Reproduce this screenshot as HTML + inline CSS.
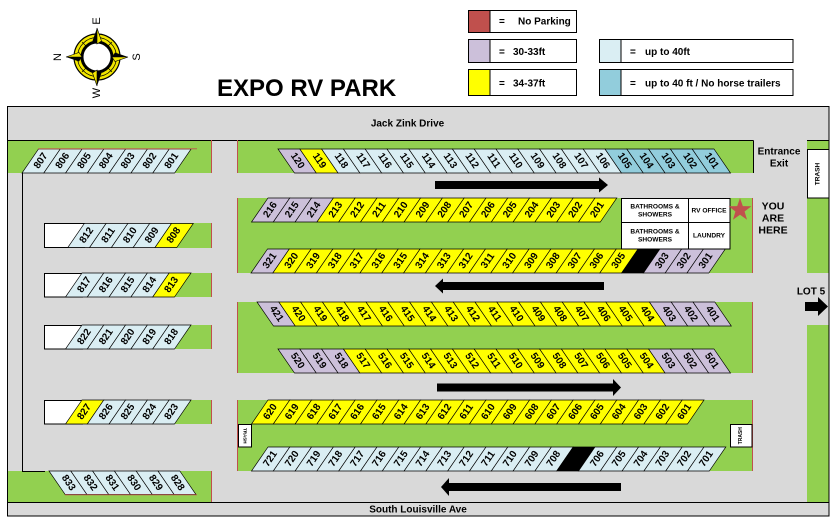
<!DOCTYPE html>
<html><head><meta charset="utf-8"><style>
html,body{margin:0;padding:0;background:#fff}
svg{display:block}
.r rect{stroke:#000;stroke-width:.8}
.r text{font-size:10px;text-anchor:middle;dominant-baseline:central}
</style></head><body>
<svg width="836" height="525" viewBox="0 0 836 525" xmlns="http://www.w3.org/2000/svg" font-family="'Liberation Sans', Arial, sans-serif" font-weight="bold">
<rect width="836" height="525" fill="#fff"/>

<!-- Compass -->
<circle cx="97" cy="57" r="23" fill="#f2e600" stroke="#000" stroke-width="1.2"/>
<circle cx="97" cy="57" r="19.5" fill="none" stroke="#000" stroke-width="0.7"/>
<line x1="82" y1="42" x2="112" y2="72" stroke="#000" stroke-width="0.6"/>
<line x1="112" y1="42" x2="82" y2="72" stroke="#000" stroke-width="0.6"/>
<circle cx="97" cy="57" r="15" fill="#fff" stroke="#000" stroke-width="3"/>
<polygon points="97,28 92.5,41 97,44" fill="#000"/><polygon points="97,28 101.5,41 97,44" fill="#f2e600" stroke="#000" stroke-width=".6"/>
<polygon points="97,86 101.5,73 97,70" fill="#000"/><polygon points="97,86 92.5,73 97,70" fill="#f2e600" stroke="#000" stroke-width=".6"/>
<polygon points="66,57 79,61.5 82,57" fill="#000"/><polygon points="66,57 79,52.5 82,57" fill="#f2e600" stroke="#000" stroke-width=".6"/>
<polygon points="128,57 115,52.5 112,57" fill="#000"/><polygon points="128,57 115,61.5 112,57" fill="#f2e600" stroke="#000" stroke-width=".6"/>
<g font-weight="normal" font-size="11" text-anchor="middle" dominant-baseline="central">
<text transform="translate(97,21) rotate(-90)">E</text>
<text transform="translate(58,57) rotate(-90)">N</text>
<text transform="translate(137,57) rotate(-90)">S</text>
<text transform="translate(97,93) rotate(-90)">W</text>
</g>

<text x="217" y="96" font-size="24">EXPO RV PARK</text>

<!-- Legend -->
<g font-size="10">
<rect x="468.5" y="10.5" width="108" height="22" fill="#fff" stroke="#000"/>
<rect x="468.5" y="10.5" width="21.5" height="22" fill="#c0504d" stroke="#000"/>
<text x="499" y="24.6">=</text><text x="518" y="24.6">No Parking</text>
<rect x="468.5" y="39.5" width="108" height="23" fill="#fff" stroke="#000"/>
<rect x="468.5" y="39.5" width="21.5" height="23" fill="#ccc0da" stroke="#000"/>
<text x="499" y="55">=</text><text x="513" y="55">30-33ft</text>
<rect x="468.5" y="69.5" width="108" height="26" fill="#fff" stroke="#000"/>
<rect x="468.5" y="69.5" width="21.5" height="26" fill="#ffff00" stroke="#000"/>
<text x="499" y="86.3">=</text><text x="513" y="86.3">34-37ft</text>
<rect x="599.5" y="39.5" width="193.5" height="23" fill="#fff" stroke="#000"/>
<rect x="599.5" y="39.5" width="21.5" height="23" fill="#daeef3" stroke="#000"/>
<text x="630" y="55">=</text><text x="645" y="55">up to 40ft</text>
<rect x="599.5" y="69.5" width="193.5" height="26" fill="#fff" stroke="#000"/>
<rect x="599.5" y="69.5" width="21.5" height="26" fill="#92cddc" stroke="#000"/>
<text x="630" y="86.3">=</text><text x="645" y="86.3">up to 40 ft / No horse trailers</text>
</g>

<!-- Ground -->
<rect x="7.5" y="106.5" width="821.5" height="409.5" fill="#d9d9d9" stroke="#000"/>
<line x1="7.5" y1="502.5" x2="829" y2="502.5" stroke="#000"/>
<text x="407.5" y="126.5" font-size="10" text-anchor="middle">Jack Zink Drive</text>
<text x="418" y="512.5" font-size="10" text-anchor="middle">South Louisville Ave</text>

<!-- Greens -->
<g fill="#92d050">
<rect x="8" y="140" width="203" height="33"/>
<rect x="237" y="140" width="516" height="33"/>
<rect x="807" y="140" width="21.5" height="133"/>
<rect x="807" y="325" width="21.5" height="177"/>
<rect x="237" y="198" width="515" height="75"/>
<rect x="237" y="302" width="516" height="71"/>
<rect x="237" y="400" width="516" height="71"/>
<rect x="170" y="223" width="41" height="25"/>
<rect x="170" y="273" width="41" height="24"/>
<rect x="170" y="325" width="41" height="24"/>
<rect x="170" y="400" width="41" height="24"/>
<rect x="8" y="471" width="203" height="31"/>
</g>

<!-- Black lines -->
<g stroke="#000" stroke-width="1" fill="none">
<line x1="7.5" y1="140.5" x2="753.5" y2="140.5"/>
<line x1="753.5" y1="140.5" x2="753.5" y2="173"/>
<line x1="807" y1="140.5" x2="829" y2="140.5"/>
<polyline points="22.5,173 22.5,471.5 45,471.5"/>
</g>

<!-- Red lines -->
<g stroke="#c0504d" stroke-width="1">
<line x1="211.5" y1="140" x2="211.5" y2="173"/>
<line x1="211.5" y1="223" x2="211.5" y2="248"/>
<line x1="211.5" y1="273" x2="211.5" y2="297"/>
<line x1="211.5" y1="325" x2="211.5" y2="349"/>
<line x1="211.5" y1="400" x2="211.5" y2="424"/>
<line x1="211.5" y1="471" x2="211.5" y2="502"/>
<line x1="237.5" y1="140" x2="237.5" y2="173"/>
<line x1="237.5" y1="198" x2="237.5" y2="273"/>
<line x1="237.5" y1="302" x2="237.5" y2="373"/>
<line x1="237.5" y1="400" x2="237.5" y2="471"/>
<line x1="752.5" y1="198" x2="752.5" y2="273"/>
<line x1="752.5" y1="302" x2="752.5" y2="373"/>
<line x1="752.5" y1="400" x2="752.5" y2="471"/>
</g>

<!-- Island white boxes -->
<g fill="#fff" stroke="#000">
<rect x="44.5" y="223.5" width="40" height="24"/>
<rect x="44.5" y="273.5" width="38" height="23.5"/>
<rect x="44.5" y="325.5" width="38" height="23.5"/>
<rect x="44.5" y="400.5" width="38" height="23.5"/>
</g>

<!-- Row 100 -->
<g class="r" transform="translate(278,149) skewX(34.5)">
<rect x="0" width="21.8" height="24" fill="#ccc0da"/><text transform="translate(10.9,12) skewX(-34.5) rotate(55.5)">120</text>
<rect x="21.8" width="21.8" height="24" fill="#ffff00"/><text transform="translate(32.7,12) skewX(-34.5) rotate(55.5)">119</text>
<rect x="43.6" width="21.8" height="24" fill="#daeef3"/><text transform="translate(54.5,12) skewX(-34.5) rotate(55.5)">118</text>
<rect x="65.4" width="21.8" height="24" fill="#daeef3"/><text transform="translate(76.3,12) skewX(-34.5) rotate(55.5)">117</text>
<rect x="87.2" width="21.8" height="24" fill="#daeef3"/><text transform="translate(98.1,12) skewX(-34.5) rotate(55.5)">116</text>
<rect x="109" width="21.8" height="24" fill="#daeef3"/><text transform="translate(119.9,12) skewX(-34.5) rotate(55.5)">115</text>
<rect x="130.8" width="21.8" height="24" fill="#daeef3"/><text transform="translate(141.7,12) skewX(-34.5) rotate(55.5)">114</text>
<rect x="152.6" width="21.8" height="24" fill="#daeef3"/><text transform="translate(163.5,12) skewX(-34.5) rotate(55.5)">113</text>
<rect x="174.4" width="21.8" height="24" fill="#daeef3"/><text transform="translate(185.3,12) skewX(-34.5) rotate(55.5)">112</text>
<rect x="196.2" width="21.8" height="24" fill="#daeef3"/><text transform="translate(207.1,12) skewX(-34.5) rotate(55.5)">111</text>
<rect x="218" width="21.8" height="24" fill="#daeef3"/><text transform="translate(228.9,12) skewX(-34.5) rotate(55.5)">110</text>
<rect x="239.8" width="21.8" height="24" fill="#daeef3"/><text transform="translate(250.7,12) skewX(-34.5) rotate(55.5)">109</text>
<rect x="261.6" width="21.8" height="24" fill="#daeef3"/><text transform="translate(272.5,12) skewX(-34.5) rotate(55.5)">108</text>
<rect x="283.4" width="21.8" height="24" fill="#daeef3"/><text transform="translate(294.3,12) skewX(-34.5) rotate(55.5)">107</text>
<rect x="305.2" width="21.8" height="24" fill="#daeef3"/><text transform="translate(316.1,12) skewX(-34.5) rotate(55.5)">106</text>
<rect x="327" width="21.8" height="24" fill="#92cddc"/><text transform="translate(337.9,12) skewX(-34.5) rotate(55.5)">105</text>
<rect x="348.8" width="21.8" height="24" fill="#92cddc"/><text transform="translate(359.7,12) skewX(-34.5) rotate(55.5)">104</text>
<rect x="370.6" width="21.8" height="24" fill="#92cddc"/><text transform="translate(381.5,12) skewX(-34.5) rotate(55.5)">103</text>
<rect x="392.4" width="21.8" height="24" fill="#92cddc"/><text transform="translate(403.3,12) skewX(-34.5) rotate(55.5)">102</text>
<rect x="414.2" width="21.8" height="24" fill="#92cddc"/><text transform="translate(425.1,12) skewX(-34.5) rotate(55.5)">101</text>
</g>

<!-- Row 200 -->
<g class="r" transform="translate(268,198) skewX(-34.5)">
<rect x="0" width="21.8" height="24" fill="#ccc0da"/><text transform="translate(10.9,12) skewX(34.5) rotate(-55.5)">216</text>
<rect x="21.8" width="21.8" height="24" fill="#ccc0da"/><text transform="translate(32.7,12) skewX(34.5) rotate(-55.5)">215</text>
<rect x="43.6" width="21.8" height="24" fill="#ccc0da"/><text transform="translate(54.5,12) skewX(34.5) rotate(-55.5)">214</text>
<rect x="65.4" width="21.8" height="24" fill="#ffff00"/><text transform="translate(76.3,12) skewX(34.5) rotate(-55.5)">213</text>
<rect x="87.2" width="21.8" height="24" fill="#ffff00"/><text transform="translate(98.1,12) skewX(34.5) rotate(-55.5)">212</text>
<rect x="109" width="21.8" height="24" fill="#ffff00"/><text transform="translate(119.9,12) skewX(34.5) rotate(-55.5)">211</text>
<rect x="130.8" width="21.8" height="24" fill="#ffff00"/><text transform="translate(141.7,12) skewX(34.5) rotate(-55.5)">210</text>
<rect x="152.6" width="21.8" height="24" fill="#ffff00"/><text transform="translate(163.5,12) skewX(34.5) rotate(-55.5)">209</text>
<rect x="174.4" width="21.8" height="24" fill="#ffff00"/><text transform="translate(185.3,12) skewX(34.5) rotate(-55.5)">208</text>
<rect x="196.2" width="21.8" height="24" fill="#ffff00"/><text transform="translate(207.1,12) skewX(34.5) rotate(-55.5)">207</text>
<rect x="218" width="21.8" height="24" fill="#ffff00"/><text transform="translate(228.9,12) skewX(34.5) rotate(-55.5)">206</text>
<rect x="239.8" width="21.8" height="24" fill="#ffff00"/><text transform="translate(250.7,12) skewX(34.5) rotate(-55.5)">205</text>
<rect x="261.6" width="21.8" height="24" fill="#ffff00"/><text transform="translate(272.5,12) skewX(34.5) rotate(-55.5)">204</text>
<rect x="283.4" width="21.8" height="24" fill="#ffff00"/><text transform="translate(294.3,12) skewX(34.5) rotate(-55.5)">203</text>
<rect x="305.2" width="21.8" height="24" fill="#ffff00"/><text transform="translate(316.1,12) skewX(34.5) rotate(-55.5)">202</text>
<rect x="327" width="21.8" height="24" fill="#ffff00"/><text transform="translate(337.9,12) skewX(34.5) rotate(-55.5)">201</text>
</g>

<!-- Row 300 -->
<g class="r" transform="translate(267.5,249) skewX(-34.5)">
<rect x="0" width="21.8" height="24" fill="#ccc0da"/><text transform="translate(10.9,12) skewX(34.5) rotate(-55.5)">321</text>
<rect x="21.8" width="21.8" height="24" fill="#ffff00"/><text transform="translate(32.7,12) skewX(34.5) rotate(-55.5)">320</text>
<rect x="43.6" width="21.8" height="24" fill="#ffff00"/><text transform="translate(54.5,12) skewX(34.5) rotate(-55.5)">319</text>
<rect x="65.4" width="21.8" height="24" fill="#ffff00"/><text transform="translate(76.3,12) skewX(34.5) rotate(-55.5)">318</text>
<rect x="87.2" width="21.8" height="24" fill="#ffff00"/><text transform="translate(98.1,12) skewX(34.5) rotate(-55.5)">317</text>
<rect x="109" width="21.8" height="24" fill="#ffff00"/><text transform="translate(119.9,12) skewX(34.5) rotate(-55.5)">316</text>
<rect x="130.8" width="21.8" height="24" fill="#ffff00"/><text transform="translate(141.7,12) skewX(34.5) rotate(-55.5)">315</text>
<rect x="152.6" width="21.8" height="24" fill="#ffff00"/><text transform="translate(163.5,12) skewX(34.5) rotate(-55.5)">314</text>
<rect x="174.4" width="21.8" height="24" fill="#ffff00"/><text transform="translate(185.3,12) skewX(34.5) rotate(-55.5)">313</text>
<rect x="196.2" width="21.8" height="24" fill="#ffff00"/><text transform="translate(207.1,12) skewX(34.5) rotate(-55.5)">312</text>
<rect x="218" width="21.8" height="24" fill="#ffff00"/><text transform="translate(228.9,12) skewX(34.5) rotate(-55.5)">311</text>
<rect x="239.8" width="21.8" height="24" fill="#ffff00"/><text transform="translate(250.7,12) skewX(34.5) rotate(-55.5)">310</text>
<rect x="261.6" width="21.8" height="24" fill="#ffff00"/><text transform="translate(272.5,12) skewX(34.5) rotate(-55.5)">309</text>
<rect x="283.4" width="21.8" height="24" fill="#ffff00"/><text transform="translate(294.3,12) skewX(34.5) rotate(-55.5)">308</text>
<rect x="305.2" width="21.8" height="24" fill="#ffff00"/><text transform="translate(316.1,12) skewX(34.5) rotate(-55.5)">307</text>
<rect x="327" width="21.8" height="24" fill="#ffff00"/><text transform="translate(337.9,12) skewX(34.5) rotate(-55.5)">306</text>
<rect x="348.8" width="21.8" height="24" fill="#ffff00"/><text transform="translate(359.7,12) skewX(34.5) rotate(-55.5)">305</text>
<rect x="370.6" width="21.8" height="24" fill="#000"/>
<rect x="392.4" width="21.8" height="24" fill="#ccc0da"/><text transform="translate(403.3,12) skewX(34.5) rotate(-55.5)">303</text>
<rect x="414.2" width="21.8" height="24" fill="#ccc0da"/><text transform="translate(425.1,12) skewX(34.5) rotate(-55.5)">302</text>
<rect x="436" width="21.8" height="24" fill="#ccc0da"/><text transform="translate(446.9,12) skewX(34.5) rotate(-55.5)">301</text>
</g>

<!-- Row 400 -->
<g class="r" transform="translate(257,302) skewX(34.5)">
<rect x="0" width="21.8" height="24" fill="#ccc0da"/><text transform="translate(10.9,12) skewX(-34.5) rotate(55.5)">421</text>
<rect x="21.8" width="21.8" height="24" fill="#ffff00"/><text transform="translate(32.7,12) skewX(-34.5) rotate(55.5)">420</text>
<rect x="43.6" width="21.8" height="24" fill="#ffff00"/><text transform="translate(54.5,12) skewX(-34.5) rotate(55.5)">419</text>
<rect x="65.4" width="21.8" height="24" fill="#ffff00"/><text transform="translate(76.3,12) skewX(-34.5) rotate(55.5)">418</text>
<rect x="87.2" width="21.8" height="24" fill="#ffff00"/><text transform="translate(98.1,12) skewX(-34.5) rotate(55.5)">417</text>
<rect x="109" width="21.8" height="24" fill="#ffff00"/><text transform="translate(119.9,12) skewX(-34.5) rotate(55.5)">416</text>
<rect x="130.8" width="21.8" height="24" fill="#ffff00"/><text transform="translate(141.7,12) skewX(-34.5) rotate(55.5)">415</text>
<rect x="152.6" width="21.8" height="24" fill="#ffff00"/><text transform="translate(163.5,12) skewX(-34.5) rotate(55.5)">414</text>
<rect x="174.4" width="21.8" height="24" fill="#ffff00"/><text transform="translate(185.3,12) skewX(-34.5) rotate(55.5)">413</text>
<rect x="196.2" width="21.8" height="24" fill="#ffff00"/><text transform="translate(207.1,12) skewX(-34.5) rotate(55.5)">412</text>
<rect x="218" width="21.8" height="24" fill="#ffff00"/><text transform="translate(228.9,12) skewX(-34.5) rotate(55.5)">411</text>
<rect x="239.8" width="21.8" height="24" fill="#ffff00"/><text transform="translate(250.7,12) skewX(-34.5) rotate(55.5)">410</text>
<rect x="261.6" width="21.8" height="24" fill="#ffff00"/><text transform="translate(272.5,12) skewX(-34.5) rotate(55.5)">409</text>
<rect x="283.4" width="21.8" height="24" fill="#ffff00"/><text transform="translate(294.3,12) skewX(-34.5) rotate(55.5)">408</text>
<rect x="305.2" width="21.8" height="24" fill="#ffff00"/><text transform="translate(316.1,12) skewX(-34.5) rotate(55.5)">407</text>
<rect x="327" width="21.8" height="24" fill="#ffff00"/><text transform="translate(337.9,12) skewX(-34.5) rotate(55.5)">406</text>
<rect x="348.8" width="21.8" height="24" fill="#ffff00"/><text transform="translate(359.7,12) skewX(-34.5) rotate(55.5)">405</text>
<rect x="370.6" width="21.8" height="24" fill="#ffff00"/><text transform="translate(381.5,12) skewX(-34.5) rotate(55.5)">404</text>
<rect x="392.4" width="21.8" height="24" fill="#ccc0da"/><text transform="translate(403.3,12) skewX(-34.5) rotate(55.5)">403</text>
<rect x="414.2" width="21.8" height="24" fill="#ccc0da"/><text transform="translate(425.1,12) skewX(-34.5) rotate(55.5)">402</text>
<rect x="436" width="21.8" height="24" fill="#ccc0da"/><text transform="translate(446.9,12) skewX(-34.5) rotate(55.5)">401</text>
</g>

<!-- Row 500 -->
<g class="r" transform="translate(278,349) skewX(34.5)">
<rect x="0" width="21.8" height="24" fill="#ccc0da"/><text transform="translate(10.9,12) skewX(-34.5) rotate(55.5)">520</text>
<rect x="21.8" width="21.8" height="24" fill="#ccc0da"/><text transform="translate(32.7,12) skewX(-34.5) rotate(55.5)">519</text>
<rect x="43.6" width="21.8" height="24" fill="#ccc0da"/><text transform="translate(54.5,12) skewX(-34.5) rotate(55.5)">518</text>
<rect x="65.4" width="21.8" height="24" fill="#ffff00"/><text transform="translate(76.3,12) skewX(-34.5) rotate(55.5)">517</text>
<rect x="87.2" width="21.8" height="24" fill="#ffff00"/><text transform="translate(98.1,12) skewX(-34.5) rotate(55.5)">516</text>
<rect x="109" width="21.8" height="24" fill="#ffff00"/><text transform="translate(119.9,12) skewX(-34.5) rotate(55.5)">515</text>
<rect x="130.8" width="21.8" height="24" fill="#ffff00"/><text transform="translate(141.7,12) skewX(-34.5) rotate(55.5)">514</text>
<rect x="152.6" width="21.8" height="24" fill="#ffff00"/><text transform="translate(163.5,12) skewX(-34.5) rotate(55.5)">513</text>
<rect x="174.4" width="21.8" height="24" fill="#ffff00"/><text transform="translate(185.3,12) skewX(-34.5) rotate(55.5)">512</text>
<rect x="196.2" width="21.8" height="24" fill="#ffff00"/><text transform="translate(207.1,12) skewX(-34.5) rotate(55.5)">511</text>
<rect x="218" width="21.8" height="24" fill="#ffff00"/><text transform="translate(228.9,12) skewX(-34.5) rotate(55.5)">510</text>
<rect x="239.8" width="21.8" height="24" fill="#ffff00"/><text transform="translate(250.7,12) skewX(-34.5) rotate(55.5)">509</text>
<rect x="261.6" width="21.8" height="24" fill="#ffff00"/><text transform="translate(272.5,12) skewX(-34.5) rotate(55.5)">508</text>
<rect x="283.4" width="21.8" height="24" fill="#ffff00"/><text transform="translate(294.3,12) skewX(-34.5) rotate(55.5)">507</text>
<rect x="305.2" width="21.8" height="24" fill="#ffff00"/><text transform="translate(316.1,12) skewX(-34.5) rotate(55.5)">506</text>
<rect x="327" width="21.8" height="24" fill="#ffff00"/><text transform="translate(337.9,12) skewX(-34.5) rotate(55.5)">505</text>
<rect x="348.8" width="21.8" height="24" fill="#ffff00"/><text transform="translate(359.7,12) skewX(-34.5) rotate(55.5)">504</text>
<rect x="370.6" width="21.8" height="24" fill="#ccc0da"/><text transform="translate(381.5,12) skewX(-34.5) rotate(55.5)">503</text>
<rect x="392.4" width="21.8" height="24" fill="#ccc0da"/><text transform="translate(403.3,12) skewX(-34.5) rotate(55.5)">502</text>
<rect x="414.2" width="21.8" height="24" fill="#ccc0da"/><text transform="translate(425.1,12) skewX(-34.5) rotate(55.5)">501</text>
</g>

<!-- Row 600 -->
<g class="r" transform="translate(268,400) skewX(-34.5)">
<rect x="0" width="21.8" height="24" fill="#ffff00"/><text transform="translate(10.9,12) skewX(34.5) rotate(-55.5)">620</text>
<rect x="21.8" width="21.8" height="24" fill="#ffff00"/><text transform="translate(32.7,12) skewX(34.5) rotate(-55.5)">619</text>
<rect x="43.6" width="21.8" height="24" fill="#ffff00"/><text transform="translate(54.5,12) skewX(34.5) rotate(-55.5)">618</text>
<rect x="65.4" width="21.8" height="24" fill="#ffff00"/><text transform="translate(76.3,12) skewX(34.5) rotate(-55.5)">617</text>
<rect x="87.2" width="21.8" height="24" fill="#ffff00"/><text transform="translate(98.1,12) skewX(34.5) rotate(-55.5)">616</text>
<rect x="109" width="21.8" height="24" fill="#ffff00"/><text transform="translate(119.9,12) skewX(34.5) rotate(-55.5)">615</text>
<rect x="130.8" width="21.8" height="24" fill="#ffff00"/><text transform="translate(141.7,12) skewX(34.5) rotate(-55.5)">614</text>
<rect x="152.6" width="21.8" height="24" fill="#ffff00"/><text transform="translate(163.5,12) skewX(34.5) rotate(-55.5)">613</text>
<rect x="174.4" width="21.8" height="24" fill="#ffff00"/><text transform="translate(185.3,12) skewX(34.5) rotate(-55.5)">612</text>
<rect x="196.2" width="21.8" height="24" fill="#ffff00"/><text transform="translate(207.1,12) skewX(34.5) rotate(-55.5)">611</text>
<rect x="218" width="21.8" height="24" fill="#ffff00"/><text transform="translate(228.9,12) skewX(34.5) rotate(-55.5)">610</text>
<rect x="239.8" width="21.8" height="24" fill="#ffff00"/><text transform="translate(250.7,12) skewX(34.5) rotate(-55.5)">609</text>
<rect x="261.6" width="21.8" height="24" fill="#ffff00"/><text transform="translate(272.5,12) skewX(34.5) rotate(-55.5)">608</text>
<rect x="283.4" width="21.8" height="24" fill="#ffff00"/><text transform="translate(294.3,12) skewX(34.5) rotate(-55.5)">607</text>
<rect x="305.2" width="21.8" height="24" fill="#ffff00"/><text transform="translate(316.1,12) skewX(34.5) rotate(-55.5)">606</text>
<rect x="327" width="21.8" height="24" fill="#ffff00"/><text transform="translate(337.9,12) skewX(34.5) rotate(-55.5)">605</text>
<rect x="348.8" width="21.8" height="24" fill="#ffff00"/><text transform="translate(359.7,12) skewX(34.5) rotate(-55.5)">604</text>
<rect x="370.6" width="21.8" height="24" fill="#ffff00"/><text transform="translate(381.5,12) skewX(34.5) rotate(-55.5)">603</text>
<rect x="392.4" width="21.8" height="24" fill="#ffff00"/><text transform="translate(403.3,12) skewX(34.5) rotate(-55.5)">602</text>
<rect x="414.2" width="21.8" height="24" fill="#ffff00"/><text transform="translate(425.1,12) skewX(34.5) rotate(-55.5)">601</text>
</g>

<!-- Row 700 -->
<g class="r" transform="translate(268,447) skewX(-34.5)">
<rect x="0" width="21.8" height="24" fill="#daeef3"/><text transform="translate(10.9,12) skewX(34.5) rotate(-55.5)">721</text>
<rect x="21.8" width="21.8" height="24" fill="#daeef3"/><text transform="translate(32.7,12) skewX(34.5) rotate(-55.5)">720</text>
<rect x="43.6" width="21.8" height="24" fill="#daeef3"/><text transform="translate(54.5,12) skewX(34.5) rotate(-55.5)">719</text>
<rect x="65.4" width="21.8" height="24" fill="#daeef3"/><text transform="translate(76.3,12) skewX(34.5) rotate(-55.5)">718</text>
<rect x="87.2" width="21.8" height="24" fill="#daeef3"/><text transform="translate(98.1,12) skewX(34.5) rotate(-55.5)">717</text>
<rect x="109" width="21.8" height="24" fill="#daeef3"/><text transform="translate(119.9,12) skewX(34.5) rotate(-55.5)">716</text>
<rect x="130.8" width="21.8" height="24" fill="#daeef3"/><text transform="translate(141.7,12) skewX(34.5) rotate(-55.5)">715</text>
<rect x="152.6" width="21.8" height="24" fill="#daeef3"/><text transform="translate(163.5,12) skewX(34.5) rotate(-55.5)">714</text>
<rect x="174.4" width="21.8" height="24" fill="#daeef3"/><text transform="translate(185.3,12) skewX(34.5) rotate(-55.5)">713</text>
<rect x="196.2" width="21.8" height="24" fill="#daeef3"/><text transform="translate(207.1,12) skewX(34.5) rotate(-55.5)">712</text>
<rect x="218" width="21.8" height="24" fill="#daeef3"/><text transform="translate(228.9,12) skewX(34.5) rotate(-55.5)">711</text>
<rect x="239.8" width="21.8" height="24" fill="#daeef3"/><text transform="translate(250.7,12) skewX(34.5) rotate(-55.5)">710</text>
<rect x="261.6" width="21.8" height="24" fill="#daeef3"/><text transform="translate(272.5,12) skewX(34.5) rotate(-55.5)">709</text>
<rect x="283.4" width="21.8" height="24" fill="#daeef3"/><text transform="translate(294.3,12) skewX(34.5) rotate(-55.5)">708</text>
<rect x="305.2" width="21.8" height="24" fill="#000"/>
<rect x="327" width="21.8" height="24" fill="#daeef3"/><text transform="translate(337.9,12) skewX(34.5) rotate(-55.5)">706</text>
<rect x="348.8" width="21.8" height="24" fill="#daeef3"/><text transform="translate(359.7,12) skewX(34.5) rotate(-55.5)">705</text>
<rect x="370.6" width="21.8" height="24" fill="#daeef3"/><text transform="translate(381.5,12) skewX(34.5) rotate(-55.5)">704</text>
<rect x="392.4" width="21.8" height="24" fill="#daeef3"/><text transform="translate(403.3,12) skewX(34.5) rotate(-55.5)">703</text>
<rect x="414.2" width="21.8" height="24" fill="#daeef3"/><text transform="translate(425.1,12) skewX(34.5) rotate(-55.5)">702</text>
<rect x="436" width="21.8" height="24" fill="#daeef3"/><text transform="translate(446.9,12) skewX(34.5) rotate(-55.5)">701</text>
</g>

<!-- Row 800 top -->
<g class="r" transform="translate(38.5,149) skewX(-34.5)">
<rect x="0" width="21.8" height="24" fill="#daeef3"/><text transform="translate(10.9,12) skewX(34.5) rotate(-55.5)">807</text>
<rect x="21.8" width="21.8" height="24" fill="#daeef3"/><text transform="translate(32.7,12) skewX(34.5) rotate(-55.5)">806</text>
<rect x="43.6" width="21.8" height="24" fill="#daeef3"/><text transform="translate(54.5,12) skewX(34.5) rotate(-55.5)">805</text>
<rect x="65.4" width="21.8" height="24" fill="#daeef3"/><text transform="translate(76.3,12) skewX(34.5) rotate(-55.5)">804</text>
<rect x="87.2" width="21.8" height="24" fill="#daeef3"/><text transform="translate(98.1,12) skewX(34.5) rotate(-55.5)">803</text>
<rect x="109" width="21.8" height="24" fill="#daeef3"/><text transform="translate(119.9,12) skewX(34.5) rotate(-55.5)">802</text>
<rect x="130.8" width="21.8" height="24" fill="#daeef3"/><text transform="translate(141.7,12) skewX(34.5) rotate(-55.5)">801</text>
</g>
<line x1="38" y1="148.8" x2="197" y2="148.8" stroke="#c0504d" stroke-width="0.9"/>

<!-- Island 812-808 -->
<g class="r" transform="translate(84.3,223.5) skewX(-34.5)">
<rect x="0" width="21.8" height="24" fill="#daeef3"/><text transform="translate(10.9,12) skewX(34.5) rotate(-55.5)">812</text>
<rect x="21.8" width="21.8" height="24" fill="#daeef3"/><text transform="translate(32.7,12) skewX(34.5) rotate(-55.5)">811</text>
<rect x="43.6" width="21.8" height="24" fill="#daeef3"/><text transform="translate(54.5,12) skewX(34.5) rotate(-55.5)">810</text>
<rect x="65.4" width="21.8" height="24" fill="#daeef3"/><text transform="translate(76.3,12) skewX(34.5) rotate(-55.5)">809</text>
<rect x="87.2" width="21.8" height="24" fill="#ffff00"/><text transform="translate(98.1,12) skewX(34.5) rotate(-55.5)">808</text>
</g>

<!-- Island 817-813 -->
<g class="r" transform="translate(82,273) skewX(-34.5)">
<rect x="0" width="21.8" height="24" fill="#daeef3"/><text transform="translate(10.9,12) skewX(34.5) rotate(-55.5)">817</text>
<rect x="21.8" width="21.8" height="24" fill="#daeef3"/><text transform="translate(32.7,12) skewX(34.5) rotate(-55.5)">816</text>
<rect x="43.6" width="21.8" height="24" fill="#daeef3"/><text transform="translate(54.5,12) skewX(34.5) rotate(-55.5)">815</text>
<rect x="65.4" width="21.8" height="24" fill="#daeef3"/><text transform="translate(76.3,12) skewX(34.5) rotate(-55.5)">814</text>
<rect x="87.2" width="21.8" height="24" fill="#ffff00"/><text transform="translate(98.1,12) skewX(34.5) rotate(-55.5)">813</text>
</g>

<!-- Island 822-818 -->
<g class="r" transform="translate(82,325) skewX(-34.5)">
<rect x="0" width="21.8" height="24" fill="#daeef3"/><text transform="translate(10.9,12) skewX(34.5) rotate(-55.5)">822</text>
<rect x="21.8" width="21.8" height="24" fill="#daeef3"/><text transform="translate(32.7,12) skewX(34.5) rotate(-55.5)">821</text>
<rect x="43.6" width="21.8" height="24" fill="#daeef3"/><text transform="translate(54.5,12) skewX(34.5) rotate(-55.5)">820</text>
<rect x="65.4" width="21.8" height="24" fill="#daeef3"/><text transform="translate(76.3,12) skewX(34.5) rotate(-55.5)">819</text>
<rect x="87.2" width="21.8" height="24" fill="#daeef3"/><text transform="translate(98.1,12) skewX(34.5) rotate(-55.5)">818</text>
</g>

<!-- Island 827-823 -->
<g class="r" transform="translate(82,400) skewX(-34.5)">
<rect x="0" width="21.8" height="24" fill="#ffff00"/><text transform="translate(10.9,12) skewX(34.5) rotate(-55.5)">827</text>
<rect x="21.8" width="21.8" height="24" fill="#daeef3"/><text transform="translate(32.7,12) skewX(34.5) rotate(-55.5)">826</text>
<rect x="43.6" width="21.8" height="24" fill="#daeef3"/><text transform="translate(54.5,12) skewX(34.5) rotate(-55.5)">825</text>
<rect x="65.4" width="21.8" height="24" fill="#daeef3"/><text transform="translate(76.3,12) skewX(34.5) rotate(-55.5)">824</text>
<rect x="87.2" width="21.8" height="24" fill="#daeef3"/><text transform="translate(98.1,12) skewX(34.5) rotate(-55.5)">823</text>
</g>

<!-- Row 800 bottom -->
<g class="r" transform="translate(49,471) skewX(34.5)">
<rect x="0" width="21.8" height="23.5" fill="#daeef3"/><text transform="translate(10.9,12) skewX(-34.5) rotate(55.5)">833</text>
<rect x="21.8" width="21.8" height="23.5" fill="#daeef3"/><text transform="translate(32.7,12) skewX(-34.5) rotate(55.5)">832</text>
<rect x="43.6" width="21.8" height="23.5" fill="#daeef3"/><text transform="translate(54.5,12) skewX(-34.5) rotate(55.5)">831</text>
<rect x="65.4" width="21.8" height="23.5" fill="#daeef3"/><text transform="translate(76.3,12) skewX(-34.5) rotate(55.5)">830</text>
<rect x="87.2" width="21.8" height="23.5" fill="#daeef3"/><text transform="translate(98.1,12) skewX(-34.5) rotate(55.5)">829</text>
<rect x="109" width="21.8" height="23.5" fill="#daeef3"/><text transform="translate(119.9,12) skewX(-34.5) rotate(55.5)">828</text>
</g>
<line x1="65" y1="494.8" x2="197" y2="494.8" stroke="#c0504d" stroke-width="0.9"/>

<!-- Building -->
<rect x="621.5" y="198.5" width="108.5" height="50.5" fill="#fff" stroke="#000"/>
<line x1="688.5" y1="198.5" x2="688.5" y2="249" stroke="#000"/>
<line x1="621.5" y1="222.5" x2="730" y2="222.5" stroke="#000"/>
<g font-size="6.6" text-anchor="middle">
<text x="655" y="208.5">BATHROOMS &amp;</text>
<text x="655" y="216.5">SHOWERS</text>
<text x="655" y="233.5">BATHROOMS &amp;</text>
<text x="655" y="241.5">SHOWERS</text>
<text x="709" y="212.5">RV OFFICE</text>
<text x="709" y="237.5">LAUNDRY</text>
</g>

<!-- Star -->
<polygon points="740,198 742.82,206.12 751.41,206.29 744.57,211.48 747.05,219.71 740,214.8 732.95,219.71 735.43,211.48 728.59,206.29 737.18,206.12" fill="#c0504d"/>

<!-- Labels -->
<g font-size="10" text-anchor="middle">
<text x="779" y="154.5">Entrance</text>
<text x="779" y="166.5">Exit</text>
<text x="773" y="209.7" font-size="10.5">YOU</text>
<text x="773" y="221.7" font-size="10.5">ARE</text>
<text x="773" y="233.7" font-size="10.5">HERE</text>
<text x="811" y="294.5">LOT 5</text>
</g>

<!-- Trash -->
<rect x="807.5" y="149.5" width="21.5" height="48.5" fill="#fff" stroke="#000"/>
<text transform="translate(818,174) rotate(-90)" font-size="6.5" text-anchor="middle" dominant-baseline="central">TRASH</text>
<rect x="238.5" y="424.5" width="13" height="22.5" fill="#fff" stroke="#000"/>
<text transform="translate(245,435.7) rotate(90)" font-size="4.5" text-anchor="middle" dominant-baseline="central">TRASH</text>
<rect x="730.5" y="424.5" width="21.5" height="22.5" fill="#fff" stroke="#000"/>
<text transform="translate(741,435.7) rotate(-90)" font-size="5" text-anchor="middle" dominant-baseline="central">TRASH</text>

<!-- Arrows -->
<g fill="#000">
<polygon points="435,181 599,181 599,177.5 608,185 599,192.5 599,189 435,189"/>
<polygon points="435,286 443,278.5 443,282 604,282 604,290 443,290 443,293.5"/>
<polygon points="437,383.5 613,383.5 613,379 621,387.5 613,396 613,391.5 437,391.5"/>
<polygon points="441,487 449,478 449,483 621,483 621,491 449,491 449,496"/>
<polygon points="805,302 818,302 818,297 828,306.5 818,316 818,311 805,311"/>
</g>
</svg>
</body></html>
